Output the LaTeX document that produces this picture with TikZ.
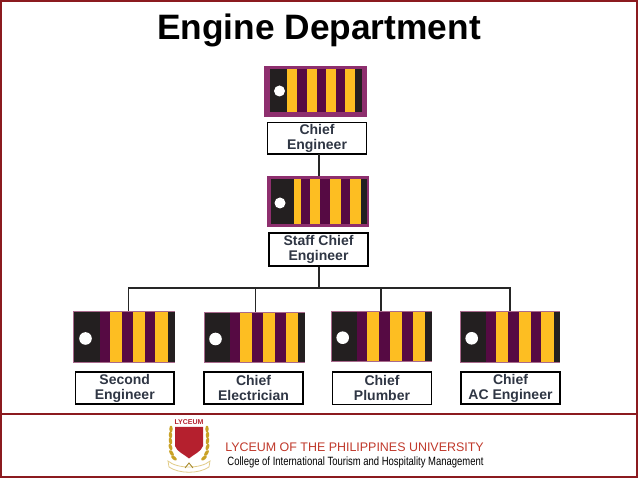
\documentclass[tikz,border=0pt]{standalone}
\usepackage{fontspec}
\usepackage{graphicx}
\setmainfont{Liberation Sans}
\definecolor{frameRed}{HTML}{8B1A1F}
\definecolor{rimMag}{HTML}{8E2F6E}
\definecolor{rimPink}{HTML}{A86A8C}
\definecolor{ribBlack}{HTML}{231F20}
\definecolor{ribPurple}{HTML}{560A43}
\definecolor{ribYellow}{HTML}{FDBE22}
\definecolor{labelInk}{HTML}{2F3644}
\definecolor{footRed}{HTML}{C0392B}
\definecolor{shieldRed}{HTML}{B5202E}
\definecolor{laurel}{HTML}{C9A227}
\tikzset{
  rankbox/.style={draw=black,line width=1.3pt,fill=white,inner sep=0pt,align=center,
    text=labelInk,font=\fontsize{14}{15}\selectfont\bfseries},
  rib/.style={inner sep=0pt,fill=rimMag},
  conn/.style={draw=black!85,line width=1.3pt},
  blackband/.style={fill=ribBlack},
  purpleband/.style={fill=ribPurple},
  yellowband/.style={fill=ribYellow},
}
\newcommand{\ribnode}[6]{%
  \path[rib,fill=#6] (#2,#3) rectangle (#4,#5);
  \coordinate (#1-c) at ({(#2+#4)/2},{(#3+#5)/2});
  \node[inner sep=0pt,minimum width={(#4-#2)*1pt},minimum height={(#5-#3)*1pt}] (#1) at (#1-c) {};
}
\newcommand{\band}[5]{\path[#5] (#1,#3) rectangle (#2,#4);}
\newcommand{\dotmark}[3]{\path[fill=white] (#1,#2) circle (#3);}
\newcommand{\boxnode}[6]{%
  \node[rankbox,minimum width={(#4-#2)*1pt},minimum height={(#5-#3)*1pt}] (#1)
    at ({(#2+#4)/2},{(#3+#5)/2}) {#6};
}
\begin{document}
\begin{tikzpicture}[x=1pt,y=-1pt]
\useasboundingbox (0,0) rectangle (638,478);
\path[fill=white] (0,0) rectangle (638,478);
% slide frame and footer rule
\draw[frameRed,line width=1.6pt] (0.8,0.8) rectangle (637.2,477.2);
\draw[frameRed,line width=2pt] (0,414) -- (638,414);
% title
\node[inner sep=0pt,font=\fontsize{35.3}{37}\selectfont\bfseries] (title) at (319,30.5) {Engine Department};

% --- top ribbon
\ribnode{r1}{264}{66}{366.5}{117.5}{rimMag}
\band{269.5}{287}{69}{112.5}{blackband}
\band{287}{297}{69}{112.5}{yellowband}
\band{297}{307}{69}{112.5}{purpleband}
\band{307}{317}{69}{112.5}{yellowband}
\band{317}{325.5}{69}{112.5}{purpleband}
\band{325.5}{336}{69}{112.5}{yellowband}
\band{336}{344.5}{69}{112.5}{purpleband}
\band{344.5}{355}{69}{112.5}{yellowband}
\band{355}{362}{69}{112.5}{blackband}
\dotmark{279.5}{91}{5.5}
\boxnode{b1}{267.5}{122.5}{366.5}{154}{Chief\\Engineer}

% --- second ribbon
\ribnode{r2}{267}{176}{369}{227}{rimMag}
\band{271}{294}{179}{224}{blackband}
\band{294}{300.5}{179}{224}{yellowband}
\band{300.5}{310}{179}{224}{purpleband}
\band{310}{320}{179}{224}{yellowband}
\band{320}{330}{179}{224}{purpleband}
\band{330}{341}{179}{224}{yellowband}
\band{341}{350}{179}{224}{purpleband}
\band{350}{361}{179}{224}{yellowband}
\band{361}{367}{179}{224}{blackband}
\dotmark{280}{203}{5.5}
\boxnode{b2}{269}{233}{368}{266}{Staff Chief\\Engineer}

% --- lower ribbons
\ribnode{r3}{73}{311}{174.5}{363}{rimPink}
\band{74}{99.5}{312}{362}{blackband}
\band{99.5}{109.5}{312}{362}{purpleband}
\band{109.5}{122}{312}{362}{yellowband}
\band{122}{132.5}{312}{362}{purpleband}
\band{132.5}{145}{312}{362}{yellowband}
\band{145}{155}{312}{362}{purpleband}
\band{155}{168}{312}{362}{yellowband}
\band{168}{174.5}{312}{362}{blackband}
\dotmark{85.5}{338.5}{6.3}
\boxnode{b3}{75.5}{372}{174}{404}{Second\\Engineer}

\ribnode{r4}{203.5}{312}{304.5}{363}{rimPink}
\band{204.5}{230}{313}{362}{blackband}
\band{230}{240}{313}{362}{purpleband}
\band{240}{252}{313}{362}{yellowband}
\band{252}{262.5}{313}{362}{purpleband}
\band{262.5}{275}{313}{362}{yellowband}
\band{275}{285.5}{313}{362}{purpleband}
\band{285.5}{297.5}{313}{362}{yellowband}
\band{297.5}{304.5}{313}{362}{blackband}
\dotmark{215.5}{339}{6.3}
\boxnode{b4}{204}{372}{303}{404}{Chief\\Electrician}

\ribnode{r5}{330.5}{311}{432}{362.5}{rimPink}
\band{331.5}{356.5}{312}{361.5}{blackband}
\band{356.5}{366.5}{312}{361.5}{purpleband}
\band{366.5}{379}{312}{361.5}{yellowband}
\band{379}{389.5}{312}{361.5}{purpleband}
\band{389.5}{402}{312}{361.5}{yellowband}
\band{402}{412.5}{312}{361.5}{purpleband}
\band{412.5}{425}{312}{361.5}{yellowband}
\band{425}{432}{312}{361.5}{blackband}
\dotmark{342.7}{337.7}{6.3}
\boxnode{b5}{332.5}{372}{431.5}{404.5}{Chief\\Plumber}

\ribnode{r6}{459.5}{311}{560}{363}{rimPink}
\band{460.5}{485.5}{312}{362}{blackband}
\band{485.5}{495.5}{312}{362}{purpleband}
\band{495.5}{508}{312}{362}{yellowband}
\band{508}{518.5}{312}{362}{purpleband}
\band{518.5}{530.5}{312}{362}{yellowband}
\band{530.5}{541}{312}{362}{purpleband}
\band{541}{553.5}{312}{362}{yellowband}
\band{553.5}{560}{312}{362}{blackband}
\dotmark{471.7}{338.3}{6.3}
\boxnode{b6}{461}{372}{560}{404}{Chief\\AC Engineer}

% --- connectors
\coordinate (bus2) at (319,288);
\coordinate (busL) at (128.5,288);
\coordinate (busA) at (255.5,288);
\coordinate (busB) at (381,288);
\coordinate (busR) at (510,288);
\coordinate (top1) at (319,154);
\draw[conn] (top1) -- (top1 |- r2.north);
\draw[conn] (bus2 |- b2.south) -- (bus2);
\draw[conn] (busL |- r3.north) -- (busL) -- (busR) -- (busR |- r6.north);
\draw[conn] (busA) -- (busA |- r4.north);
\draw[conn] (busB) -- (busB |- r5.north);

% --- logo
\begin{scope}[shift={(189,446)}]
  % banner
  \path[fill=white,draw=laurel!55!white,line width=0.8pt] (-21,15) .. controls (-12,23) and (12,23) .. (21,15) -- (20,21) .. controls (10,28) and (-10,28) .. (-20,21) -- cycle;
  \foreach \s in {-1,1}{
    \foreach \a/\b/\r in {-17/18/90,-11/18.5/85,-5/18.5/80,1/18.5/70,7/17.5/55,12/15/40}{
      \path[fill=laurel,rotate around={\s*\r:({\s*\b},\a)}] ({\s*\b},\a) ellipse (3.4pt and 1.7pt);
    }
  }
  \draw[laurel!80!black,line width=0.8pt] (-4,22) -- (0,17) -- (4,22);
  \path[fill=shieldRed] (-14,-19) -- (14,-19) -- (14,0) .. controls (12,6) and (5,8) .. (0,12.5) .. controls (-5,8) and (-12,6) .. (-14,0) -- cycle;
  \node[inner sep=0pt,text=shieldRed,font=\fontsize{7}{8}\selectfont\bfseries] (logotext) at (0,-24) {LYCEUM};
\end{scope}

% --- footer text
\node[inner sep=0pt,text=footRed,font=\fontsize{12.45}{14}\selectfont] (uni) at (354.5,447) {LYCEUM OF THE PHILIPPINES UNIVERSITY};
\node[inner sep=0pt,font=\fontsize{12}{14}\selectfont] (college) at (355.5,462) {\scalebox{0.79}[1]{College of International Tourism and Hospitality Management}};
\end{tikzpicture}
\end{document}
